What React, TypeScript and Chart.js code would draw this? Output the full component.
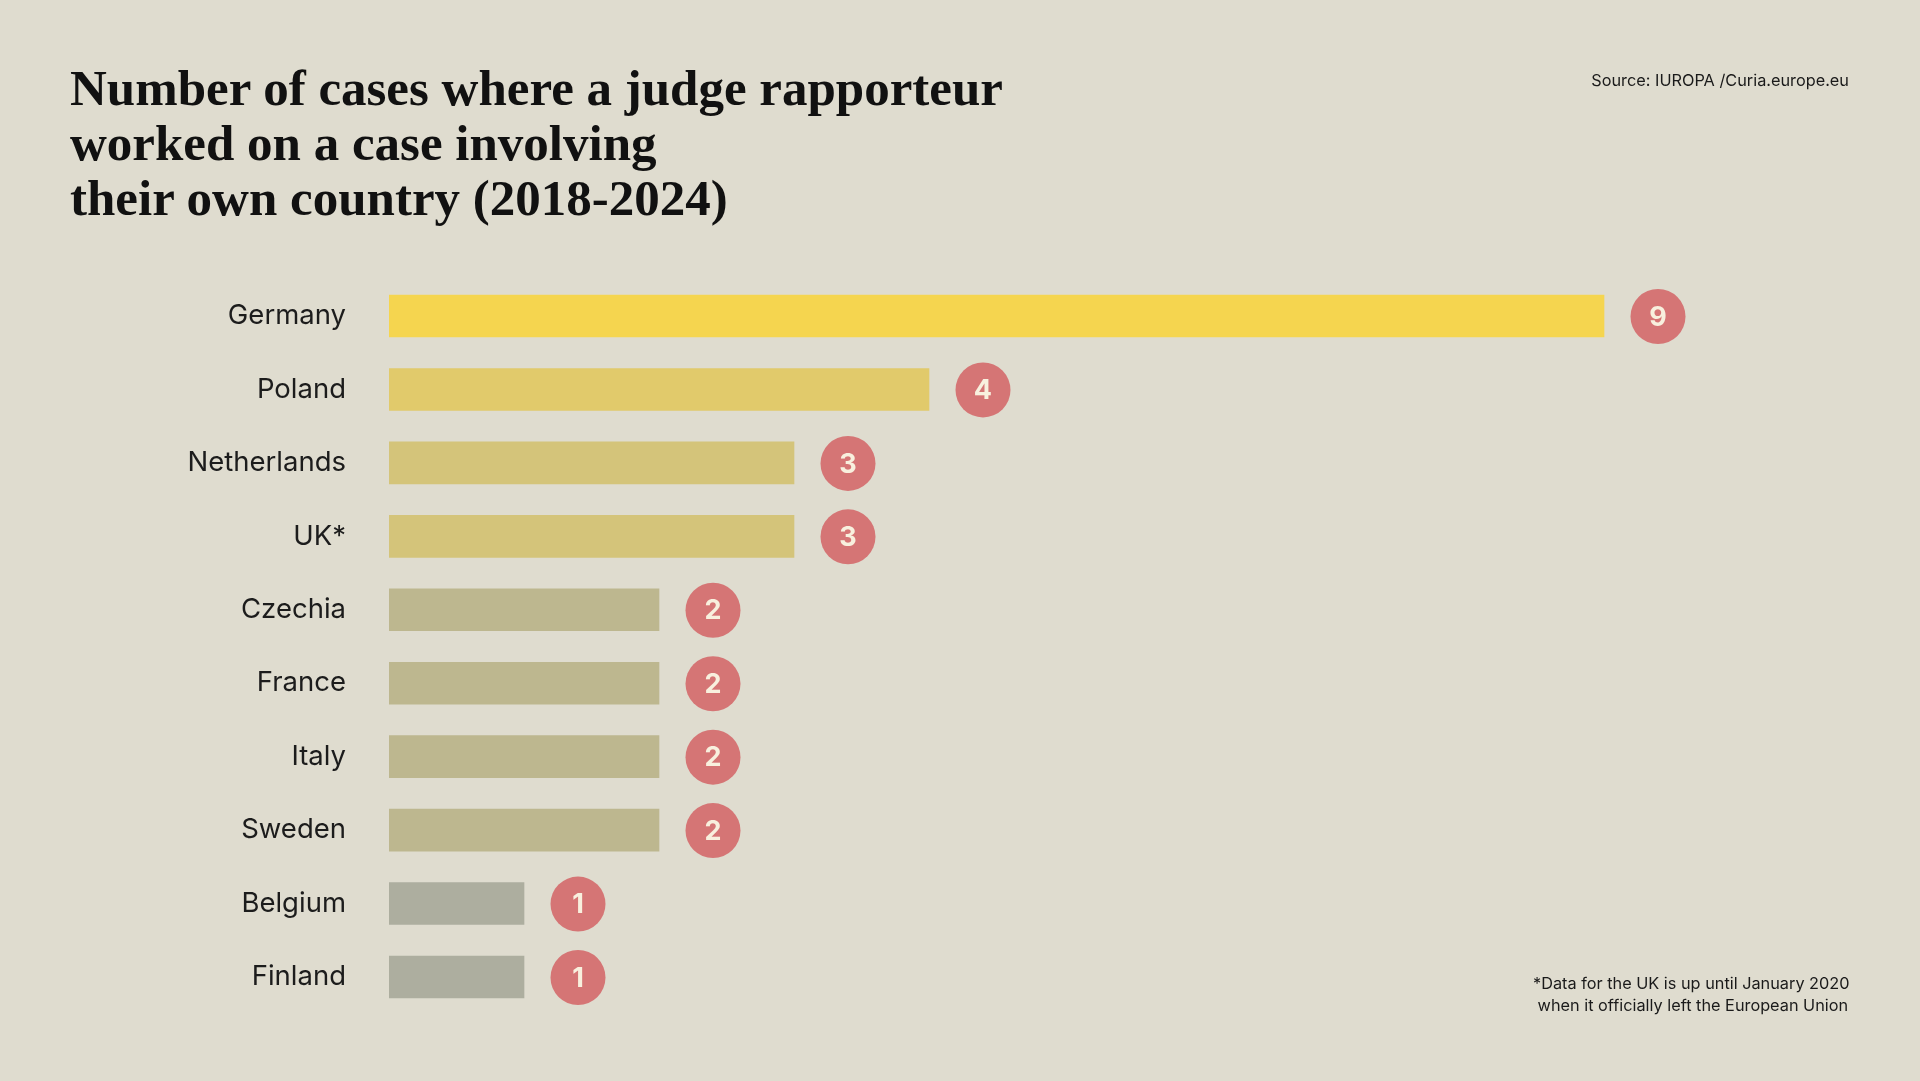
import React, { useEffect, useRef } from "react";
import { Chart, registerables } from "chart.js";

Chart.register(...registerables);

const countries = ["Germany", "Poland", "Netherlands", "UK*", "Czechia", "France", "Italy", "Sweden", "Belgium", "Finland"];
const cases = [9, 4, 3, 3, 2, 2, 2, 2, 1, 1];
const barColors = ["#F5D54F", "#E1CA6B", "#D4C47A", "#D4C47A", "#BDB78F", "#BDB78F", "#BDB78F", "#BDB78F", "#ADAE9F", "#ADAE9F"];
const titleLines = ["Number of cases where a judge rapporteur", "worked on a case involving", "their own country (2018-2024)"];
const sourceText = "Source: IUROPA /Curia.europe.eu";
const noteLines = ["*Data for the UK is up until January 2020", " when it officially left the European Union"];

const BG = "#DFDCCF";

const badgePlugin = {
  id: "badges",
  afterDatasetsDraw(chart: any) {
    const ctx = chart.ctx;
    const meta = chart.getDatasetMeta(0);
    ctx.save();
    meta.data.forEach((bar: any, i: number) => {
      const cx = bar.x + 54;
      const cy = bar.y + 0.5;
      ctx.beginPath();
      ctx.arc(cx, cy, 27.5, 0, Math.PI * 2);
      ctx.fillStyle = "#D57575";
      ctx.fill();
      ctx.fillStyle = "#F8F0DE";
      ctx.font = "700 27px Inter";
      ctx.textAlign = "center";
      ctx.textBaseline = "middle";
      ctx.fillText(String(cases[i]), cx, cy + 1);
    });
    ctx.restore();
  },
};

export default function App() {
  const ref = useRef<HTMLCanvasElement>(null);
  useEffect(() => {
    if (!ref.current) return;
    const chart = new Chart(ref.current, {
      type: "bar",
      data: {
        labels: countries,
        datasets: [
          {
            data: cases,
            backgroundColor: barColors,
            barThickness: 42,
            borderWidth: 0,
          },
        ],
      },
      options: {
        indexAxis: "y",
        animation: false,
        responsive: false,
        maintainAspectRatio: false,
        layout: { padding: { top: 279.3, bottom: 67.3, right: 181, left: 0 } },
        plugins: { legend: { display: false }, tooltip: { enabled: false }, title: { display: false } },
        scales: {
          x: { display: false, min: 0, max: 10 },
          y: {
            afterFit: (scale: any) => {
              scale.width = 389;
            },
            grid: { display: false, drawTicks: false },
            border: { display: false },
            ticks: {
              padding: 43,
              color: "#1c1c1c",
              font: { family: "Inter", size: 27.5, weight: "400" },
            },
          },
        },
      },
      plugins: [badgePlugin],
    });
    return () => chart.destroy();
  }, []);

  return (
    <div style={{ position: "absolute", left: 0, top: 0, width: 1920, height: 1081, background: BG, overflow: "hidden" }}>
      <canvas ref={ref} width={1920} height={1081} style={{ position: "absolute", left: 0, top: 0 }} />
      <div
        style={{
          position: "absolute",
          left: 70,
          top: 61,
          fontFamily: "'Liberation Serif', serif",
          fontWeight: 700,
          fontSize: 51,
          lineHeight: "55px",
          color: "#111",
          whiteSpace: "pre",
        }}
      >
        {titleLines.map((l, i) => (
          <div key={i}>{l}</div>
        ))}
      </div>
      <div
        style={{
          position: "absolute",
          right: 1920 - 1849,
          top: 70,
          fontFamily: "Inter, sans-serif",
          fontSize: 16.3,
          color: "#1a1a1a",
          whiteSpace: "pre",
        }}
      >
        {sourceText}
      </div>
      <div
        style={{
          position: "absolute",
          left: 1533,
          top: 973,
          fontFamily: "Inter, sans-serif",
          fontSize: 16.3,
          lineHeight: "21.5px",
          color: "#1a1a1a",
          whiteSpace: "pre",
        }}
      >
        {noteLines.map((l, i) => (
          <div key={i}>{l}</div>
        ))}
      </div>
    </div>
  );
}
